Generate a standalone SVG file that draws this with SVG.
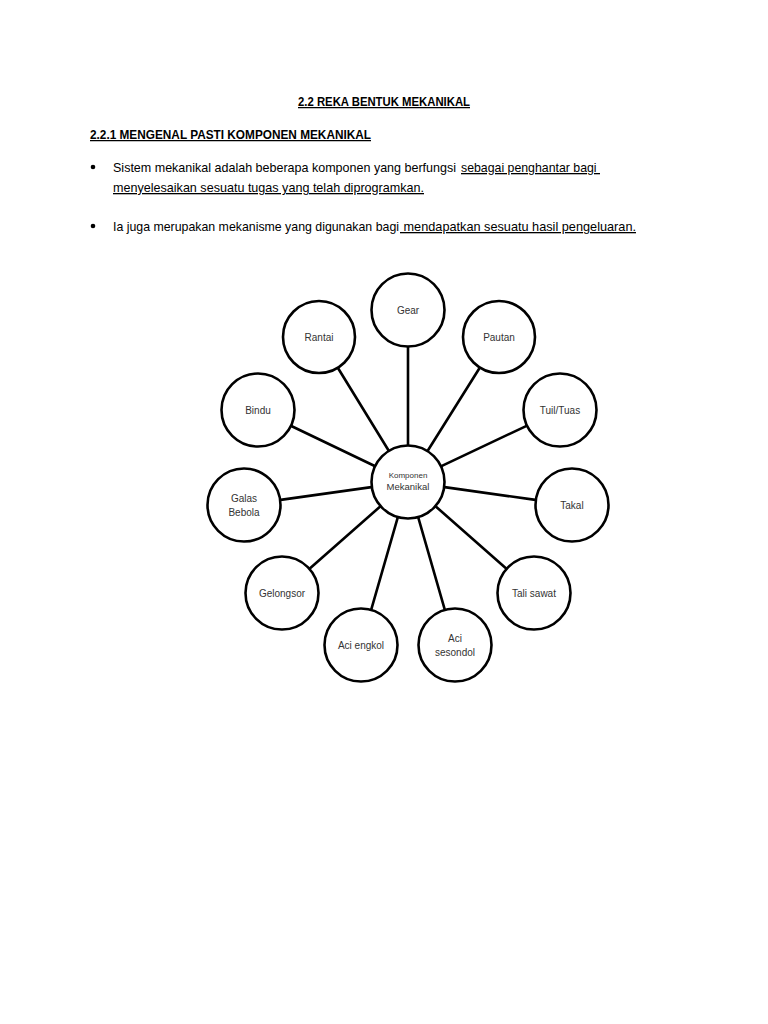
<svg xmlns="http://www.w3.org/2000/svg" width="768" height="1024" viewBox="0 0 768 1024">
<style>
.h{font-family:"Liberation Sans",Arial,sans-serif;font-size:12.5px;font-weight:bold;fill:#000;text-decoration:underline}
.b{font-family:"Liberation Sans",Arial,sans-serif;font-size:13px;fill:#000}
.u{text-decoration:underline}
.n{fill:#fff;stroke:#000;stroke-width:2.6}
.l{font-family:"Liberation Sans",Arial,sans-serif;font-size:10px;fill:#333;text-anchor:middle}
.c line{stroke:#000;stroke-width:2.6;stroke-linecap:round}
</style>
<rect width="768" height="1024" fill="#fff"/>
<text class="h" x="384" y="106" text-anchor="middle" textLength="172" lengthAdjust="spacingAndGlyphs">2.2 REKA BENTUK MEKANIKAL</text>
<text class="h" x="90" y="139" textLength="281" lengthAdjust="spacingAndGlyphs">2.2.1 MENGENAL PASTI KOMPONEN MEKANIKAL</text>
<circle cx="93" cy="167" r="2.3" fill="#000"/>
<text class="b" x="113" y="172" textLength="343" lengthAdjust="spacingAndGlyphs">Sistem mekanikal adalah beberapa komponen yang berfungsi</text>
<text class="b u" x="461" y="172" textLength="139" lengthAdjust="spacingAndGlyphs" xml:space="preserve">sebagai penghantar bagi </text>
<text class="b u" x="113" y="192" textLength="311" lengthAdjust="spacingAndGlyphs">menyelesaikan sesuatu tugas yang telah diprogramkan.</text>
<circle cx="93" cy="226" r="2.3" fill="#000"/>
<text class="b" x="113" y="231" textLength="286" lengthAdjust="spacingAndGlyphs">Ia juga merupakan mekanisme yang digunakan bagi</text>
<text class="b u" x="400" y="231" textLength="236" lengthAdjust="spacingAndGlyphs" xml:space="preserve"> mendapatkan sesuatu hasil pengeluaran.</text>
<g id="connectors" class="c">
<line x1="408" y1="445" x2="408" y2="346"/>
<line x1="388.6" y1="450.5" x2="337.8" y2="367.7"/>
<line x1="374.7" y1="466" x2="291.3" y2="426"/>
<line x1="427.7" y1="450.7" x2="479.9" y2="367.5"/>
<line x1="441.4" y1="466.2" x2="526.6" y2="425.8"/>
<line x1="371.4" y1="487.1" x2="280.6" y2="499.9"/>
<line x1="444.6" y1="487.1" x2="535.4" y2="499.9"/>
<line x1="380.2" y1="506.5" x2="309.8" y2="568.5"/>
<line x1="435.8" y1="506.5" x2="506.2" y2="568.5"/>
<line x1="397.7" y1="517.6" x2="371.3" y2="609.4"/>
<line x1="418.3" y1="517.6" x2="444.7" y2="609.4"/>
</g>
<g id="center"><circle class="n" cx="408" cy="482" r="36.5"/><text class="l" x="408" y="478" style="font-size:8px">Komponen</text><text class="l" x="408" y="490" style="font-size:9.5px">Mekanikal</text></g>
<g id="gear"><circle class="n" cx="408" cy="310" r="36.5"/><text class="l" x="408" y="314">Gear</text></g>
<g id="rantai"><circle class="n" cx="319" cy="337" r="36"/><text class="l" x="319" y="341">Rantai</text></g>
<g id="bindu"><circle class="n" cx="258" cy="410" r="36.5"/><text class="l" x="258" y="414">Bindu</text></g>
<g id="pautan"><circle class="n" cx="499" cy="337" r="36"/><text class="l" x="499" y="341">Pautan</text></g>
<g id="tuil"><circle class="n" cx="560" cy="410" r="36.5"/><text class="l" x="560" y="414">Tuil/Tuas</text></g>
<g id="galas"><circle class="n" cx="244" cy="505" r="36.5"/><text class="l" x="244" y="502">Galas</text><text class="l" x="244" y="516">Bebola</text></g>
<g id="takal"><circle class="n" cx="572" cy="505" r="36.5"/><text class="l" x="572" y="509">Takal</text></g>
<g id="gelongsor"><circle class="n" cx="282" cy="593" r="36.5"/><text class="l" x="282" y="597">Gelongsor</text></g>
<g id="talisawat"><circle class="n" cx="534" cy="593" r="36.5"/><text class="l" x="534" y="597">Tali sawat</text></g>
<g id="aciengkol"><circle class="n" cx="361" cy="645" r="36.5"/><text class="l" x="361" y="649">Aci engkol</text></g>
<g id="acisesondol"><circle class="n" cx="455" cy="645" r="36.5"/><text class="l" x="455" y="642">Aci</text><text class="l" x="455" y="656">sesondol</text></g>
</svg>
